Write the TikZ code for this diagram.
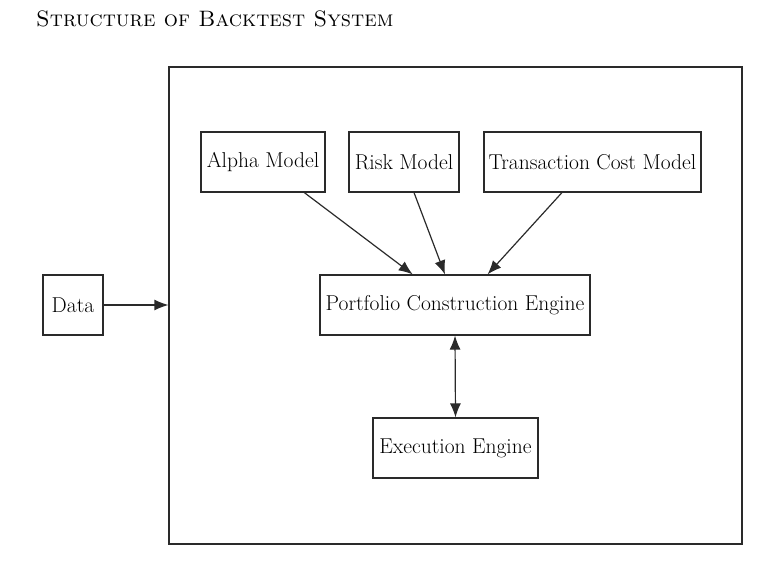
\documentclass[tikz,border=0pt]{standalone}
\usetikzlibrary{arrows.meta,calc}
\definecolor{ink}{HTML}{2A2A2A}
\tikzset{
  box/.style={draw=ink, line width=1.2pt, inner sep=0pt, minimum height=60pt, text=black, font=\fontsize{21.5}{24}\selectfont},
  conn/.style={draw=ink, line width=1.2pt, -{Latex[length=14pt,width=11pt]}},
  biconn/.style={draw=ink, line width=1.2pt, {Latex[length=14pt,width=11pt]}-{Latex[length=14pt,width=11pt]}}
}
\begin{document}
\begin{tikzpicture}[x=1pt,y=-1pt]
\useasboundingbox (0,0) rectangle (768,570);
\node[anchor=base west, text=black, inner sep=0pt, font=\fontsize{22.3}{25}\selectfont\scshape] (title) at (36,27) {Structure of Backtest System};
\node[draw=ink, line width=1.2pt, minimum width=573pt, minimum height=477pt, inner sep=0pt] (frame) at (455.5,305.5) {};
\node[box, minimum width=60pt] (data) at (73,305) {Data};
\node[box, minimum width=124pt] (alpha) at (263,162) {Alpha Model};
\node[box, minimum width=110pt] (risk) at (404,162) {Risk Model};
\node[box, minimum width=217pt] (tcm) at (592.5,162) {Transaction Cost Model};
\node[box, minimum width=270pt] (pce) at (455,305) {Portfolio Construction Engine};
\node[box, minimum width=165pt] (exec) at (455.5,448) {Execution Engine};
\draw[conn] (data.east) -- (data.east -| frame.west);
\draw[conn] ($(alpha.south west)!0.83!(alpha.south east)$) -- ($(pce.north west)!0.344!(pce.north east)$);
\draw[conn] ($(risk.south west)!0.59!(risk.south east)$) -- ($(pce.north west)!0.463!(pce.north east)$);
\draw[conn] ($(tcm.south west)!0.36!(tcm.south east)$) -- ($(pce.north west)!0.62!(pce.north east)$);
\draw[biconn] (pce.south) -- (exec.north);
\end{tikzpicture}
\end{document}
